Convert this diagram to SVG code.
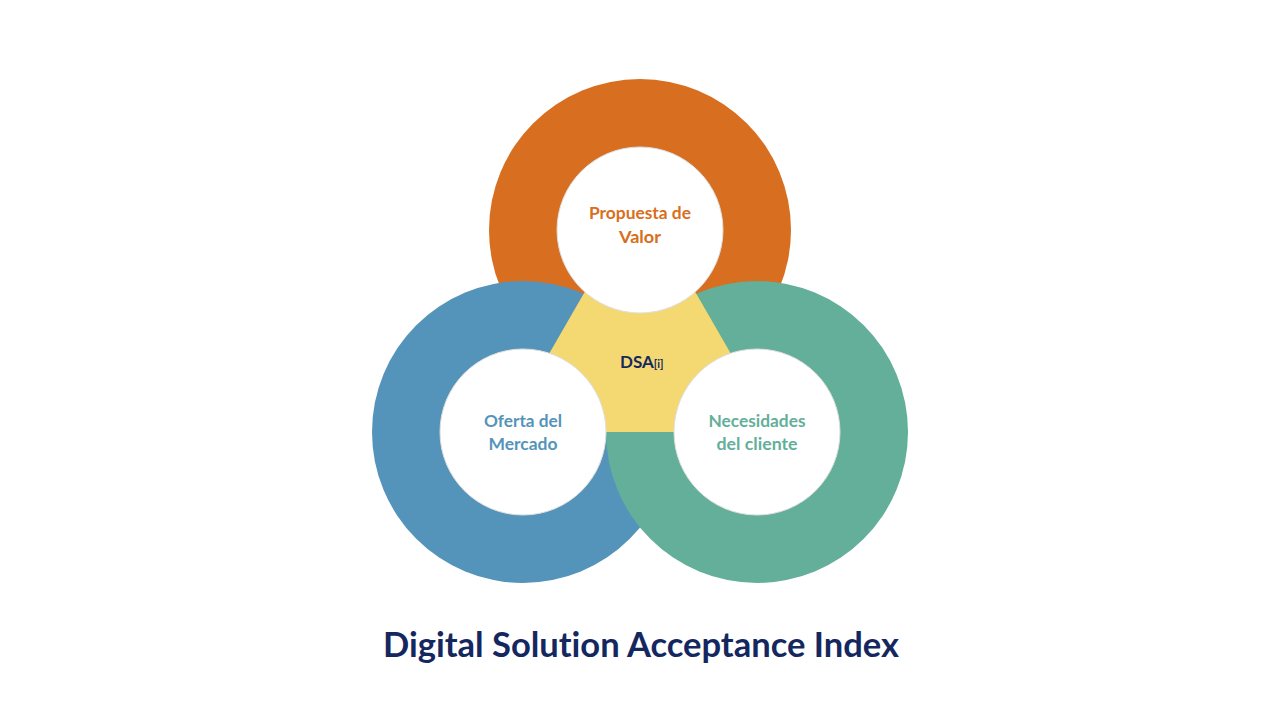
<svg xmlns="http://www.w3.org/2000/svg" width="1280" height="720" viewBox="0 0 1280 720">
<style>
text{font-variant-ligatures:none;font-feature-settings:"liga" 0,"dlig" 0}
.lbl{font-family:Lato,"Liberation Sans",Arial,sans-serif;font-weight:bold;font-size:17px;text-anchor:middle}
.inner{fill:#ffffff;stroke:#dedede;stroke-width:1}
</style>
<rect width="1280" height="720" fill="#ffffff"/>
<g id="ring-propuesta">
<circle cx="640" cy="230" r="151" fill="#D86E20"/>
</g>
<g id="ring-oferta">
<circle cx="523" cy="432" r="151" fill="#5494BA"/>
</g>
<g id="ring-necesidades">
<circle cx="757" cy="432" r="151" fill="#63AF9A"/>
</g>
<g id="dsa">
<polygon points="640,196 504,432 776,432" fill="#F4D872"/>
</g>
<g id="node-propuesta">
<circle class="inner" cx="640" cy="230" r="83"/>
<text class="lbl" fill="#D86E20" x="640" y="219" textLength="102" lengthAdjust="spacingAndGlyphs">Propuesta de</text>
<text class="lbl" fill="#D86E20" x="640" y="243" textLength="42" lengthAdjust="spacingAndGlyphs">Valor</text>
</g>
<g id="node-oferta">
<circle class="inner" cx="523" cy="432" r="83"/>
<text class="lbl" fill="#5494BA" x="523" y="427" textLength="78" lengthAdjust="spacingAndGlyphs">Oferta del</text>
<text class="lbl" fill="#5494BA" x="523" y="450" textLength="69" lengthAdjust="spacingAndGlyphs">Mercado</text>
</g>
<g id="node-necesidades">
<circle class="inner" cx="757" cy="432" r="83"/>
<text class="lbl" fill="#63AF9A" x="757" y="427" textLength="97" lengthAdjust="spacingAndGlyphs">Necesidades</text>
<text class="lbl" fill="#63AF9A" x="757" y="450" textLength="81" lengthAdjust="spacingAndGlyphs">del cliente</text>
</g>
<g id="node-dsa">
<text font-family="Lato, Liberation Sans, Arial, sans-serif" font-weight="bold" fill="#14285F" x="620" y="368"><tspan font-size="17">DSA</tspan><tspan font-size="11">[i]</tspan></text>
</g>
<g id="connectors"></g>
<g id="title">
<text font-family="Lato, Liberation Sans, Arial, sans-serif" font-weight="bold" font-size="35" fill="#14285F" x="641" y="657" text-anchor="middle" textLength="516" lengthAdjust="spacingAndGlyphs">Digital Solution Acceptance Index</text>
</g>
</svg>
